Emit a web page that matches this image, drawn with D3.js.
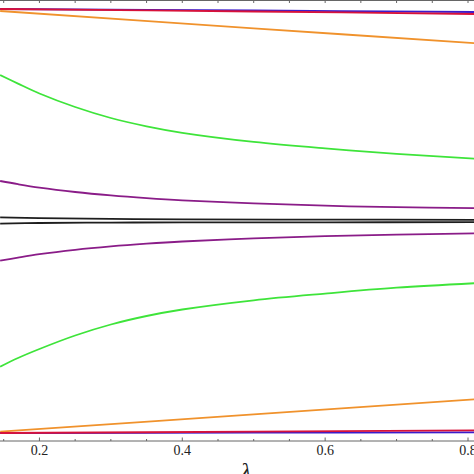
<!DOCTYPE html>
<html><head><meta charset="utf-8">
<script src="https://cdn.jsdelivr.net/npm/d3@7"></script>
<style>html,body{margin:0;padding:0;background:#fff;}svg{display:block;}</style>
</head><body>
<svg id="c" width="474" height="474"></svg>
<script>
// λ sample points and series values
const lam = [0.145, 0.17, 0.2, 0.25, 0.3, 0.35, 0.4, 0.5, 0.6, 0.7, 0.81];
const greenTop    = [1.46, 1.374, 1.275, 1.14, 1.03, 0.947, 0.882, 0.791, 0.726, 0.672, 0.623];
const greenBottom = [-1.457, -1.37, -1.28, -1.145, -1.035, -0.95, -0.885, -0.793, -0.726, -0.667, -0.622];
const purpleTop    = [0.40, 0.368, 0.334, 0.29, 0.256, 0.229, 0.207, 0.176, 0.153, 0.138, 0.128];
const purpleBottom = [-0.397, -0.366, -0.332, -0.288, -0.254, -0.227, -0.205, -0.174, -0.151, -0.136, -0.124];
const lam2 = [0.145, 0.2, 0.3, 0.4, 0.6, 0.81];
const blackTop    = [0.037, 0.029, 0.021, 0.017, 0.014, 0.012];
const blackBottom = [-0.027, -0.020, -0.016, -0.014, -0.013, -0.012];
const lam3 = [0.145, 0.5, 0.81];
const orangeTop    = [2.10, 1.927, 1.777];
const orangeBottom = [-2.107, -1.933, -1.783];
const blueTop    = [2.12, 2.105, 2.09];
const redTop     = [2.12, 2.095, 2.07];
const blueBottom = [-2.12, -2.117, -2.113];
const redBottom  = [-2.12, -2.107, -2.093];
const majorTicks = [0.2, 0.4, 0.6, 0.8];
const minorTicks = [0.15, 0.25, 0.3, 0.35, 0.45, 0.5, 0.55, 0.65, 0.7, 0.75];
const tickLabels = ["0.2", "0.4", "0.6", "0.8"];

const svg = d3.select("#c");
const x = d3.scaleLinear().domain([0.1448, 0.8084]).range([0, 474]);
const y = d3.scaleLinear().domain([-2.20, 2.21]).range([441, 0]);

const series = [
  {xs: lam3, ys: orangeTop, c: "#f0922c"},
  {xs: lam3, ys: orangeBottom, c: "#f0922c"},
  {xs: lam, ys: greenTop, c: "#3ee43a"},
  {xs: lam, ys: greenBottom, c: "#3ee43a"},
  {xs: lam, ys: purpleTop, c: "#8a1c88"},
  {xs: lam, ys: purpleBottom, c: "#8a1c88"},
  {xs: lam2, ys: blackTop, c: "#1e1e1e"},
  {xs: lam2, ys: blackBottom, c: "#1e1e1e"},
  {xs: lam3, ys: blueTop, c: "#3b1ccc"},
  {xs: lam3, ys: blueBottom, c: "#3b1ccc"},
  {xs: lam3, ys: redTop, c: "#d8123a"},
  {xs: lam3, ys: redBottom, c: "#d8123a"}
];
const line = d3.line().x(d => x(d[0])).y(d => y(d[1])).curve(d3.curveCatmullRom.alpha(0.5));
series.forEach(s => {
  svg.append("path")
    .attr("d", line(s.xs.map((v, i) => [v, s.ys[i]])))
    .attr("fill", "none").attr("stroke", s.c).attr("stroke-width", 1.8);
});

// frame
const frame = "#666";
svg.append("line").attr("x1", 0).attr("x2", 474).attr("y1", y(-2.20)).attr("y2", y(-2.20))
  .attr("stroke", frame).attr("stroke-width", 1);
svg.append("line").attr("x1", 0).attr("x2", 474).attr("y1", 0.5).attr("y2", 0.5)
  .attr("stroke", frame).attr("stroke-width", 1);

const y0 = y(-2.20);
svg.selectAll(".mjb").data(majorTicks).join("line")
  .attr("x1", d => x(d)).attr("x2", d => x(d)).attr("y1", y0).attr("y2", y0 - 3.5)
  .attr("stroke", frame);
svg.selectAll(".mnb").data(minorTicks).join("line")
  .attr("x1", d => x(d)).attr("x2", d => x(d)).attr("y1", y0).attr("y2", y0 - 2)
  .attr("stroke", frame);
svg.selectAll(".mjt").data(majorTicks.concat(minorTicks)).join("line")
  .attr("x1", d => x(d)).attr("x2", d => x(d)).attr("y1", 0).attr("y2", 3)
  .attr("stroke", frame);

svg.selectAll(".tl").data(majorTicks).join("text")
  .attr("x", d => x(d)).attr("y", 455)
  .attr("text-anchor", "middle")
  .attr("font-family", "Liberation Serif, serif").attr("font-size", 14)
  .attr("fill", "#222")
  .text((d, i) => tickLabels[i]);

svg.append("text").attr("x", 246).attr("y", 479)
  .attr("text-anchor", "middle")
  .attr("font-family", "Liberation Serif, serif").attr("font-style", "italic")
  .attr("font-size", 24).attr("fill", "#222").text("λ");
</script>
</body></html>
